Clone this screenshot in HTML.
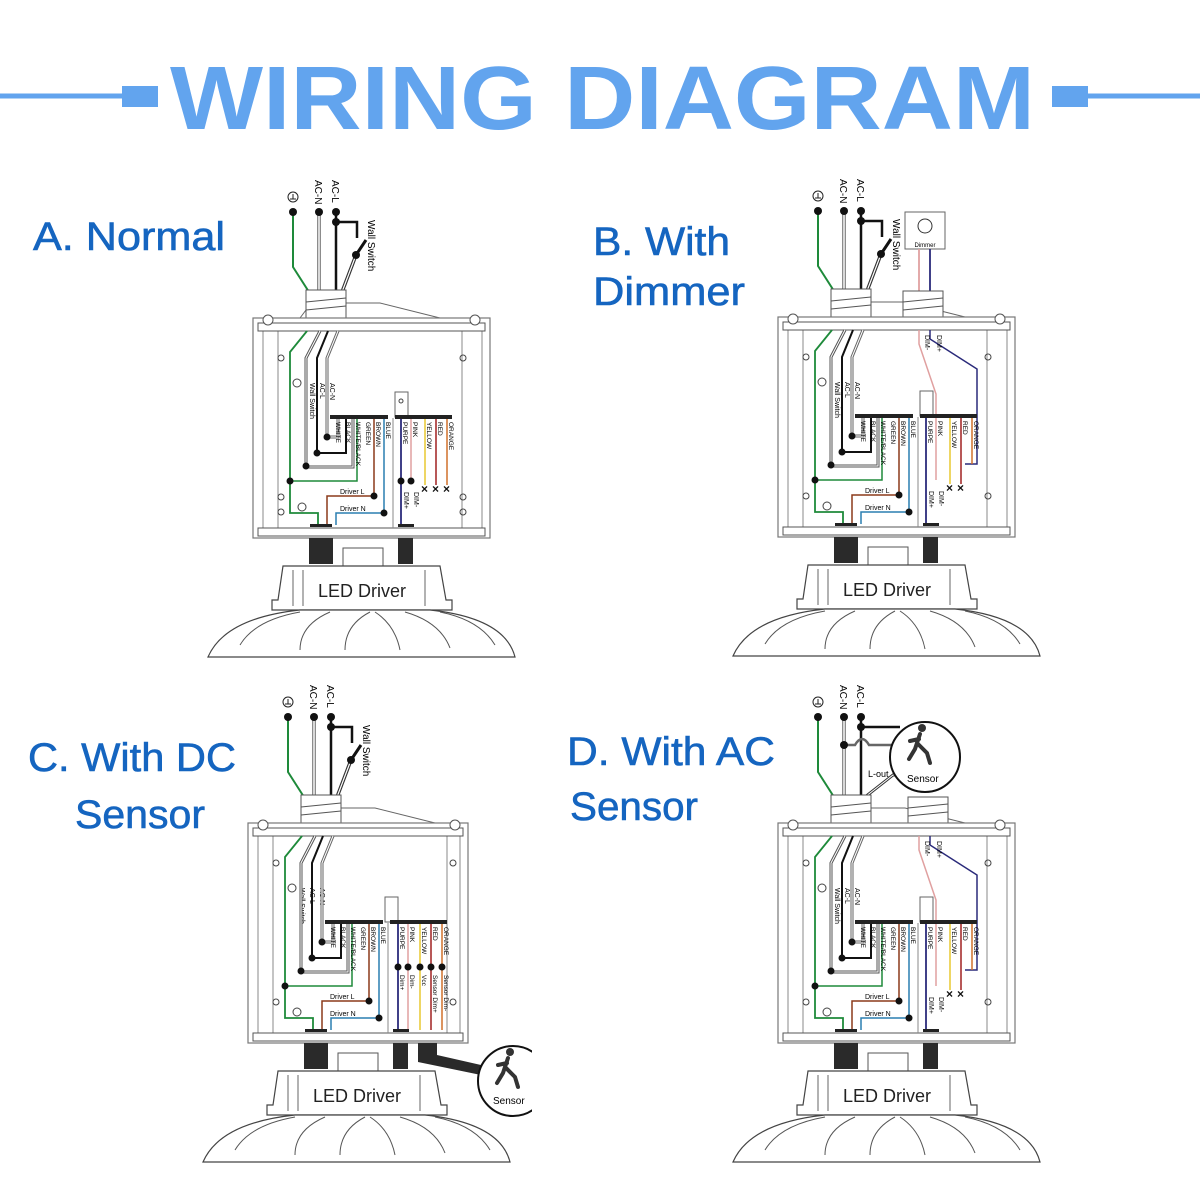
<!DOCTYPE html>
<html><head><meta charset="utf-8"><style>
html,body{margin:0;padding:0;background:#fff}
svg{display:block}
.t{font-family:"Liberation Sans",sans-serif}
</style></head><body>
<svg width="1200" height="1200" viewBox="0 0 1200 1200" xmlns="http://www.w3.org/2000/svg" class="t">
<defs><clipPath id="cc"><rect x="0" y="0" width="532" height="1200"/></clipPath></defs>
<!-- title -->
<line x1="0" y1="96" x2="125" y2="96" stroke="#62a4ee" stroke-width="5"/>
<rect x="122" y="86" width="36" height="21" fill="#62a4ee"/>
<line x1="1085" y1="96" x2="1200" y2="96" stroke="#62a4ee" stroke-width="5"/>
<rect x="1052" y="86" width="36" height="21" fill="#62a4ee"/>
<text x="170" y="129" font-size="90" font-weight="bold" fill="#62a4ee" textLength="865" lengthAdjust="spacingAndGlyphs">WIRING DIAGRAM</text>

<g fill="#1565c0" font-size="40" stroke="#1565c0" stroke-width="0.6">
<text x="33" y="250" textLength="192" lengthAdjust="spacingAndGlyphs">A. Normal</text>
<text x="593" y="255" textLength="137" lengthAdjust="spacingAndGlyphs">B. With</text>
<text x="593" y="305" textLength="152" lengthAdjust="spacingAndGlyphs">Dimmer</text>
<text x="28" y="771" textLength="208" lengthAdjust="spacingAndGlyphs">C. With DC</text>
<text x="75" y="828" textLength="130" lengthAdjust="spacingAndGlyphs">Sensor</text>
<text x="567" y="765" textLength="208" lengthAdjust="spacingAndGlyphs">D. With AC</text>
<text x="570" y="820" textLength="128" lengthAdjust="spacingAndGlyphs">Sensor</text>
</g>

<!-- ===== Fixture A ===== -->
<g>
<circle cx="293" cy="197" r="5" fill="none" stroke="#222"/>
<line x1="293" y1="194" x2="293" y2="199" stroke="#222"/><line x1="290" y1="199" x2="296" y2="199" stroke="#222"/>
<text transform="translate(315,180) rotate(90)" font-size="10">AC-N</text>
<text transform="translate(332,180) rotate(90)" font-size="10">AC-L</text>
<text transform="translate(368,220) rotate(90)" font-size="10">Wall Switch</text>
<path d="M293,212 L293,267 L309,292" fill="none" stroke="#1e8a3a" stroke-width="2"/>
<path d="M319,212 L319,292" fill="none" stroke="#666" stroke-width="3.5"/><path d="M319,212 L319,292" stroke="#fff" stroke-width="1.5"/>
<path d="M336,212 L336,292" stroke="#111" stroke-width="2.5"/>
<path d="M336,222 H357 V238" fill="none" stroke="#111" stroke-width="2.5"/>
<path d="M356,255 L366,240" stroke="#111" stroke-width="3"/>
<path d="M356,255 L342,292" stroke="#333" stroke-width="3.5"/><path d="M356,255 L342,292" stroke="#fff" stroke-width="1.2"/>
<g fill="#111"><circle cx="293" cy="212" r="4"/><circle cx="319" cy="212" r="4"/><circle cx="336" cy="212" r="4"/><circle cx="336" cy="222" r="4"/><circle cx="356" cy="255" r="4"/></g>
<path d="M346,303 L380,303 L440,318" fill="none" stroke="#666"/>
<path d="M300,318 L306,310" stroke="#666"/>
<rect x="306" y="290" width="40" height="28" fill="#fff" stroke="#555"/>
<line x1="306" y1="302" x2="346" y2="298" stroke="#555"/><line x1="306" y1="310" x2="346" y2="306" stroke="#555"/>
<rect x="253" y="318" width="237" height="220" fill="#fff" stroke="#777" stroke-width="1.2"/>
<line x1="263" y1="331" x2="263" y2="528" stroke="#888"/><line x1="482" y1="331" x2="482" y2="528" stroke="#888"/>
<line x1="278" y1="331" x2="278" y2="528" stroke="#888"/><line x1="462" y1="331" x2="462" y2="528" stroke="#888"/>
<rect x="258" y="323" width="227" height="8" fill="#fff" stroke="#555"/>
<rect x="258" y="528" width="227" height="8" fill="#fff" stroke="#555"/>
<circle cx="268" cy="320" r="5" fill="#fff" stroke="#555"/><circle cx="475" cy="320" r="5" fill="#fff" stroke="#555"/>
<g fill="none" stroke="#444"><circle cx="281" cy="358" r="3"/><circle cx="463" cy="358" r="3"/><circle cx="281" cy="497" r="3"/><circle cx="463" cy="497" r="3"/><circle cx="281" cy="512" r="3"/><circle cx="463" cy="512" r="3"/><circle cx="297" cy="383" r="4"/><circle cx="302" cy="507" r="4"/></g>
<text transform="translate(330,383) rotate(90)" font-size="7">AC-N</text>
<text transform="translate(320,383) rotate(90)" font-size="7">AC-L</text>
<text transform="translate(310,383) rotate(90)" font-size="7">Wall Switch</text>
<path d="M307,331 L290,352 V513 H318 V525" fill="none" stroke="#1e8a3a" stroke-width="1.8"/>
<path d="M290,481 H357 V418" fill="none" stroke="#1e8a3a" stroke-width="1.5"/>
<path d="M320,331 L306,358 V467 H353 V418" fill="none" stroke="#555" stroke-width="3"/><path d="M320,331 L306,358 V467 H353 V418" fill="none" stroke="#fff" stroke-width="1"/>
<path d="M328,331 L317,358 V453 H346 V418" fill="none" stroke="#111" stroke-width="2"/>
<path d="M338,331 L327,358 V437 H338 V418" fill="none" stroke="#666" stroke-width="3"/><path d="M338,331 L327,358 V437 H338 V418" fill="none" stroke="#fff" stroke-width="1"/>
<path d="M374,418 V496 H327 V525" fill="none" stroke="#8b3a1a" stroke-width="1.5"/>
<path d="M384,418 V513 H336 V525" fill="none" stroke="#2a7fb0" stroke-width="1.5"/>
<path d="M401,418 V525" stroke="#2a2a7a" stroke-width="1.8"/>
<path d="M411,418 V481" stroke="#e0a0a0" stroke-width="1.5"/>
<path d="M425,418 V485" stroke="#e8c830" stroke-width="1.5"/>
<path d="M436,418 V485" stroke="#a02020" stroke-width="1.5"/>
<path d="M447,418 V485" stroke="#d0702a" stroke-width="1.5"/>
<line x1="393" y1="418" x2="393" y2="528" stroke="#888"/>
<g fill="#111"><circle cx="290" cy="481" r="3.5"/><circle cx="306" cy="466" r="3.5"/><circle cx="317" cy="453" r="3.5"/><circle cx="327" cy="437" r="3.5"/><circle cx="374" cy="496" r="3.5"/><circle cx="384" cy="513" r="3.5"/><circle cx="401" cy="481" r="3.5"/><circle cx="411" cy="481" r="3.5"/></g>
<g font-size="12" font-weight="bold" fill="#111"><text x="421" y="493">×</text><text x="432" y="493">×</text><text x="443" y="493">×</text></g>
<text x="340" y="494" font-size="7">Driver L</text><text x="340" y="511" font-size="7">Driver N</text>
<text transform="translate(414,492) rotate(90)" font-size="7">DIM-</text><text transform="translate(404,492) rotate(90)" font-size="7">DIM+</text>
<rect x="395" y="392" width="13" height="25" fill="#fff" stroke="#666"/><circle cx="401" cy="401" r="2" fill="none" stroke="#444"/>
<rect x="330" y="415" width="58" height="4" fill="#222"/><rect x="395" y="415" width="57" height="4" fill="#222"/>
<g font-size="6.5">
<text transform="translate(336,422) rotate(90)">WHITE</text><text transform="translate(346,422) rotate(90)">BLACK</text><text transform="translate(356,422) rotate(90)">WHITE/BLACK</text><text transform="translate(366,422) rotate(90)">GREEN</text><text transform="translate(376,422) rotate(90)">BROWN</text><text transform="translate(386,422) rotate(90)">BLUE</text>
<text transform="translate(403,422) rotate(90)">PURPE</text><text transform="translate(413,422) rotate(90)">PINK</text><text transform="translate(427,422) rotate(90)">YELLOW</text><text transform="translate(438,422) rotate(90)">RED</text><text transform="translate(449,422) rotate(90)">ORANGE</text>
</g>
<rect x="310" y="524" width="22" height="3" fill="#222"/><rect x="398" y="524" width="16" height="3" fill="#222"/>
<rect x="309" y="538" width="24" height="26" fill="#2a2a2a"/><rect x="398" y="538" width="15" height="26" fill="#2a2a2a"/>
<rect x="343" y="548" width="40" height="18" fill="#fff" stroke="#555"/>
<path d="M283,566 L440,566 L446,600 L452,600 L452,610 L272,610 L272,600 L278,600 Z" fill="#fff" stroke="#444" stroke-width="1.2"/>
<line x1="293" y1="570" x2="293" y2="606" stroke="#666"/><line x1="303" y1="570" x2="303" y2="606" stroke="#666"/><line x1="425" y1="570" x2="425" y2="606" stroke="#666"/>
<text x="362" y="597" font-size="18" text-anchor="middle" fill="#222">LED Driver</text>
<path d="M208,657 Q225,618 300,610 L430,610 Q505,618 515,657 Z" fill="#fff" stroke="#444" stroke-width="1.2"/>
<g fill="none" stroke="#555"><path d="M240,645 Q255,620 300,612"/><path d="M300,650 Q300,625 330,612"/><path d="M345,650 Q345,625 370,612"/><path d="M400,650 Q395,625 375,612"/><path d="M450,648 Q440,622 405,612"/><path d="M495,645 Q480,620 440,612"/></g>
</g>

<!-- ===== Fixture B ===== -->
<g transform="translate(525,-1)">
<circle cx="293" cy="197" r="5" fill="none" stroke="#222"/>
<line x1="293" y1="194" x2="293" y2="199" stroke="#222"/><line x1="290" y1="199" x2="296" y2="199" stroke="#222"/>
<text transform="translate(315,180) rotate(90)" font-size="10">AC-N</text>
<text transform="translate(332,180) rotate(90)" font-size="10">AC-L</text>
<text transform="translate(368,220) rotate(90)" font-size="10">Wall Switch</text>
<path d="M293,212 L293,267 L309,292" fill="none" stroke="#1e8a3a" stroke-width="2"/>
<path d="M319,212 L319,292" stroke="#666" stroke-width="3.5"/><path d="M319,212 L319,292" stroke="#fff" stroke-width="1.5"/>
<path d="M336,212 L336,292" stroke="#111" stroke-width="2.5"/>
<path d="M336,222 H357 V238" fill="none" stroke="#111" stroke-width="2.5"/>
<path d="M356,255 L366,240" stroke="#111" stroke-width="3"/>
<path d="M356,255 L342,292" stroke="#333" stroke-width="3.5"/><path d="M356,255 L342,292" stroke="#fff" stroke-width="1.2"/>
<g fill="#111"><circle cx="293" cy="212" r="4"/><circle cx="319" cy="212" r="4"/><circle cx="336" cy="212" r="4"/><circle cx="336" cy="222" r="4"/><circle cx="356" cy="255" r="4"/></g>
<rect x="380" y="213" width="40" height="37" fill="#fff" stroke="#666"/><circle cx="400" cy="227" r="7" fill="#fff" stroke="#333"/>
<text x="400" y="248" font-size="6" text-anchor="middle">Dimmer</text>
<line x1="394" y1="250" x2="394" y2="292" stroke="#e0a0a0" stroke-width="1.8"/><line x1="405" y1="250" x2="405" y2="292" stroke="#2a2a7a" stroke-width="1.8"/>
<path d="M346,303 L380,303 L440,318" fill="none" stroke="#666"/>
<rect x="306" y="290" width="40" height="28" fill="#fff" stroke="#555"/>
<line x1="306" y1="302" x2="346" y2="298" stroke="#555"/><line x1="306" y1="310" x2="346" y2="306" stroke="#555"/>
<rect x="378" y="292" width="40" height="26" fill="#fff" stroke="#555"/>
<line x1="378" y1="303" x2="418" y2="299" stroke="#555"/><line x1="378" y1="311" x2="418" y2="307" stroke="#555"/>
<rect x="253" y="318" width="237" height="220" fill="#fff" stroke="#777" stroke-width="1.2"/>
<line x1="263" y1="331" x2="263" y2="528" stroke="#888"/><line x1="482" y1="331" x2="482" y2="528" stroke="#888"/>
<line x1="278" y1="331" x2="278" y2="528" stroke="#888"/><line x1="462" y1="331" x2="462" y2="528" stroke="#888"/>
<rect x="258" y="323" width="227" height="8" fill="#fff" stroke="#555"/><rect x="258" y="528" width="227" height="8" fill="#fff" stroke="#555"/>
<circle cx="268" cy="320" r="5" fill="#fff" stroke="#555"/><circle cx="475" cy="320" r="5" fill="#fff" stroke="#555"/>
<g fill="none" stroke="#444"><circle cx="281" cy="358" r="3"/><circle cx="463" cy="358" r="3"/><circle cx="281" cy="497" r="3"/><circle cx="463" cy="497" r="3"/><circle cx="297" cy="383" r="4"/><circle cx="302" cy="507" r="4"/></g>
<text transform="translate(330,383) rotate(90)" font-size="7">AC-N</text><text transform="translate(320,383) rotate(90)" font-size="7">AC-L</text><text transform="translate(310,383) rotate(90)" font-size="7">Wall Switch</text>
<path d="M394,331 L394,345 L411,395 V418" fill="none" stroke="#e0a0a0" stroke-width="1.5"/>
<path d="M405,331 L405,340 L452,370 V465 H440" fill="none" stroke="#2a2a7a" stroke-width="1.5"/>
<text transform="translate(400,336) rotate(90)" font-size="7">DIM-</text><text transform="translate(412,336) rotate(90)" font-size="7">DIM+</text>
<path d="M307,331 L290,352 V513 H318 V525" fill="none" stroke="#1e8a3a" stroke-width="1.8"/>
<path d="M290,481 H357 V418" fill="none" stroke="#1e8a3a" stroke-width="1.5"/>
<path d="M320,331 L306,358 V467 H353 V418" fill="none" stroke="#555" stroke-width="3"/><path d="M320,331 L306,358 V467 H353 V418" fill="none" stroke="#fff" stroke-width="1"/>
<path d="M328,331 L317,358 V453 H346 V418" fill="none" stroke="#111" stroke-width="2"/>
<path d="M338,331 L327,358 V437 H338 V418" fill="none" stroke="#666" stroke-width="3"/><path d="M338,331 L327,358 V437 H338 V418" fill="none" stroke="#fff" stroke-width="1"/>
<path d="M374,418 V496 H327 V525" fill="none" stroke="#8b3a1a" stroke-width="1.5"/>
<path d="M384,418 V513 H336 V525" fill="none" stroke="#2a7fb0" stroke-width="1.5"/>
<path d="M401,418 V525" stroke="#2a2a7a" stroke-width="1.8"/><path d="M411,418 V481" stroke="#e0a0a0" stroke-width="1.5"/>
<path d="M425,418 V485" stroke="#e8c830" stroke-width="1.5"/><path d="M436,418 V485" stroke="#a02020" stroke-width="1.5"/><path d="M447,418 V465" stroke="#d0702a" stroke-width="1.5"/>
<line x1="393" y1="418" x2="393" y2="528" stroke="#888"/>
<g fill="#111"><circle cx="290" cy="481" r="3.5"/><circle cx="306" cy="466" r="3.5"/><circle cx="317" cy="453" r="3.5"/><circle cx="327" cy="437" r="3.5"/><circle cx="374" cy="496" r="3.5"/><circle cx="384" cy="513" r="3.5"/></g>
<g font-size="12" font-weight="bold" fill="#111"><text x="421" y="493">×</text><text x="432" y="493">×</text></g>
<text x="340" y="494" font-size="7">Driver L</text><text x="340" y="511" font-size="7">Driver N</text>
<text transform="translate(414,492) rotate(90)" font-size="7">DIM-</text><text transform="translate(404,492) rotate(90)" font-size="7">DIM+</text>
<rect x="395" y="392" width="13" height="25" fill="#fff" stroke="#666"/>
<rect x="330" y="415" width="58" height="4" fill="#222"/><rect x="395" y="415" width="57" height="4" fill="#222"/>
<g font-size="6.5"><text transform="translate(336,422) rotate(90)">WHITE</text><text transform="translate(346,422) rotate(90)">BLACK</text><text transform="translate(356,422) rotate(90)">WHITE/BLACK</text><text transform="translate(366,422) rotate(90)">GREEN</text><text transform="translate(376,422) rotate(90)">BROWN</text><text transform="translate(386,422) rotate(90)">BLUE</text><text transform="translate(403,422) rotate(90)">PURPE</text><text transform="translate(413,422) rotate(90)">PINK</text><text transform="translate(427,422) rotate(90)">YELLOW</text><text transform="translate(438,422) rotate(90)">RED</text><text transform="translate(449,422) rotate(90)">ORANGE</text></g>
<rect x="310" y="524" width="22" height="3" fill="#222"/><rect x="398" y="524" width="16" height="3" fill="#222"/>
<rect x="309" y="538" width="24" height="26" fill="#2a2a2a"/><rect x="398" y="538" width="15" height="26" fill="#2a2a2a"/>
<rect x="343" y="548" width="40" height="18" fill="#fff" stroke="#555"/>
<path d="M283,566 L440,566 L446,600 L452,600 L452,610 L272,610 L272,600 L278,600 Z" fill="#fff" stroke="#444" stroke-width="1.2"/>
<line x1="293" y1="570" x2="293" y2="606" stroke="#666"/><line x1="303" y1="570" x2="303" y2="606" stroke="#666"/><line x1="425" y1="570" x2="425" y2="606" stroke="#666"/>
<text x="362" y="597" font-size="18" text-anchor="middle" fill="#222">LED Driver</text>
<path d="M208,657 Q225,618 300,610 L430,610 Q505,618 515,657 Z" fill="#fff" stroke="#444" stroke-width="1.2"/>
<g fill="none" stroke="#555"><path d="M240,645 Q255,620 300,612"/><path d="M300,650 Q300,625 330,612"/><path d="M345,650 Q345,625 370,612"/><path d="M400,650 Q395,625 375,612"/><path d="M450,648 Q440,622 405,612"/><path d="M495,645 Q480,620 440,612"/></g>
</g>

<!-- ===== Fixture C ===== -->
<g transform="translate(-5,505)">
<circle cx="293" cy="197" r="5" fill="none" stroke="#222"/>
<line x1="293" y1="194" x2="293" y2="199" stroke="#222"/><line x1="290" y1="199" x2="296" y2="199" stroke="#222"/>
<text transform="translate(315,180) rotate(90)" font-size="10">AC-N</text>
<text transform="translate(332,180) rotate(90)" font-size="10">AC-L</text>
<text transform="translate(368,220) rotate(90)" font-size="10">Wall Switch</text>
<path d="M293,212 L293,267 L309,292" fill="none" stroke="#1e8a3a" stroke-width="2"/>
<path d="M319,212 L319,292" stroke="#666" stroke-width="3.5"/><path d="M319,212 L319,292" stroke="#fff" stroke-width="1.5"/>
<path d="M336,212 L336,292" stroke="#111" stroke-width="2.5"/>
<path d="M336,222 H357 V238" fill="none" stroke="#111" stroke-width="2.5"/>
<path d="M356,255 L366,240" stroke="#111" stroke-width="3"/>
<path d="M356,255 L342,292" stroke="#333" stroke-width="3.5"/><path d="M356,255 L342,292" stroke="#fff" stroke-width="1.2"/>
<g fill="#111"><circle cx="293" cy="212" r="4"/><circle cx="319" cy="212" r="4"/><circle cx="336" cy="212" r="4"/><circle cx="336" cy="222" r="4"/><circle cx="356" cy="255" r="4"/></g>
<path d="M346,303 L380,303 L440,318" fill="none" stroke="#666"/>
<rect x="306" y="290" width="40" height="28" fill="#fff" stroke="#555"/>
<line x1="306" y1="302" x2="346" y2="298" stroke="#555"/><line x1="306" y1="310" x2="346" y2="306" stroke="#555"/>
<rect x="253" y="318" width="220" height="220" fill="#fff" stroke="#777" stroke-width="1.2"/>
<line x1="263" y1="331" x2="263" y2="528" stroke="#888"/><line x1="465" y1="331" x2="465" y2="528" stroke="#888"/>
<line x1="278" y1="331" x2="278" y2="528" stroke="#888"/><line x1="452" y1="331" x2="452" y2="528" stroke="#888"/>
<rect x="258" y="323" width="210" height="8" fill="#fff" stroke="#555"/><rect x="258" y="528" width="210" height="8" fill="#fff" stroke="#555"/>
<circle cx="268" cy="320" r="5" fill="#fff" stroke="#555"/><circle cx="460" cy="320" r="5" fill="#fff" stroke="#555"/>
<g fill="none" stroke="#444"><circle cx="281" cy="358" r="3"/><circle cx="458" cy="358" r="3"/><circle cx="281" cy="497" r="3"/><circle cx="458" cy="497" r="3"/><circle cx="297" cy="383" r="4"/><circle cx="302" cy="507" r="4"/></g>
<text transform="translate(325,383) rotate(90)" font-size="7">AC-N</text><text transform="translate(315,383) rotate(90)" font-size="7">AC-L</text><text transform="translate(305,383) rotate(90)" font-size="7">Wall Switch</text>
<path d="M307,331 L290,352 V513 H318 V525" fill="none" stroke="#1e8a3a" stroke-width="1.8"/>
<path d="M290,481 H357 V418" fill="none" stroke="#1e8a3a" stroke-width="1.5"/>
<path d="M320,331 L306,358 V467 H353 V418" fill="none" stroke="#555" stroke-width="3"/><path d="M320,331 L306,358 V467 H353 V418" fill="none" stroke="#fff" stroke-width="1"/>
<path d="M328,331 L317,358 V453 H346 V418" fill="none" stroke="#111" stroke-width="2"/>
<path d="M338,331 L327,358 V437 H338 V418" fill="none" stroke="#666" stroke-width="3"/><path d="M338,331 L327,358 V437 H338 V418" fill="none" stroke="#fff" stroke-width="1"/>
<path d="M374,418 V496 H327 V525" fill="none" stroke="#8b3a1a" stroke-width="1.5"/>
<path d="M384,418 V513 H336 V525" fill="none" stroke="#2a7fb0" stroke-width="1.5"/>
<path d="M403,418 V525" stroke="#2a2a7a" stroke-width="1.8"/><path d="M413,418 V525" stroke="#e0a0a0" stroke-width="1.5"/>
<path d="M425,418 V525" stroke="#e8c830" stroke-width="1.5"/><path d="M436,418 V525" stroke="#a02020" stroke-width="1.5"/><path d="M447,418 V525" stroke="#d0702a" stroke-width="1.5"/>
<line x1="393" y1="418" x2="393" y2="528" stroke="#888"/>
<g fill="#111"><circle cx="290" cy="481" r="3.5"/><circle cx="306" cy="466" r="3.5"/><circle cx="317" cy="453" r="3.5"/><circle cx="327" cy="437" r="3.5"/><circle cx="374" cy="496" r="3.5"/><circle cx="384" cy="513" r="3.5"/><circle cx="403" cy="462" r="3.5"/><circle cx="413" cy="462" r="3.5"/><circle cx="425" cy="462" r="3.5"/><circle cx="436" cy="462" r="3.5"/><circle cx="447" cy="462" r="3.5"/></g>
<text x="335" y="494" font-size="7">Driver L</text><text x="335" y="511" font-size="7">Driver N</text>
<g font-size="6.5"><text transform="translate(405,470) rotate(90)">Dim+</text><text transform="translate(415,470) rotate(90)">Dim-</text><text transform="translate(427,470) rotate(90)">Vcc</text><text transform="translate(438,470) rotate(90)">Sensor Dim+</text><text transform="translate(449,470) rotate(90)">Sensor Dim-</text></g>
<rect x="390" y="392" width="13" height="25" fill="#fff" stroke="#666"/>
<rect x="330" y="415" width="58" height="4" fill="#222"/><rect x="395" y="415" width="57" height="4" fill="#222"/>
<g font-size="6.5"><text transform="translate(336,422) rotate(90)">WHITE</text><text transform="translate(346,422) rotate(90)">BLACK</text><text transform="translate(356,422) rotate(90)">WHITE/BLACK</text><text transform="translate(366,422) rotate(90)">GREEN</text><text transform="translate(376,422) rotate(90)">BROWN</text><text transform="translate(386,422) rotate(90)">BLUE</text><text transform="translate(405,422) rotate(90)">PURPE</text><text transform="translate(415,422) rotate(90)">PINK</text><text transform="translate(427,422) rotate(90)">YELLOW</text><text transform="translate(438,422) rotate(90)">RED</text><text transform="translate(449,422) rotate(90)">ORANGE</text></g>
<rect x="310" y="524" width="22" height="3" fill="#222"/><rect x="398" y="524" width="16" height="3" fill="#222"/>
<rect x="309" y="538" width="24" height="26" fill="#2a2a2a"/><rect x="398" y="538" width="15" height="26" fill="#2a2a2a"/>
<path d="M423,538 L442,538 L442,550 L486,560 L486,570 L423,557 Z" fill="#2a2a2a"/>
<rect x="343" y="548" width="40" height="18" fill="#fff" stroke="#555"/>
<path d="M283,566 L440,566 L446,600 L452,600 L452,610 L272,610 L272,600 L278,600 Z" fill="#fff" stroke="#444" stroke-width="1.2"/>
<line x1="293" y1="570" x2="293" y2="606" stroke="#666"/><line x1="303" y1="570" x2="303" y2="606" stroke="#666"/><line x1="425" y1="570" x2="425" y2="606" stroke="#666"/>
<text x="362" y="597" font-size="18" text-anchor="middle" fill="#222">LED Driver</text>
<path d="M208,657 Q225,618 300,610 L430,610 Q505,618 515,657 Z" fill="#fff" stroke="#444" stroke-width="1.2"/>
<g fill="none" stroke="#555"><path d="M240,645 Q255,620 300,612"/><path d="M300,650 Q300,625 330,612"/><path d="M345,650 Q345,625 370,612"/><path d="M400,650 Q395,625 375,612"/><path d="M450,648 Q440,622 405,612"/><path d="M495,645 Q480,620 440,612"/></g>
</g>
<g clip-path="url(#cc)">
<circle cx="513" cy="1081" r="35" fill="#fff" stroke="#111" stroke-width="2"/>
<circle cx="510" cy="1052" r="4" fill="#333"/><path d="M508,1058 L503,1073 L497,1083 M505,1067 L515,1077 L518,1087 M507,1063 L498,1065" stroke="#333" stroke-width="4" fill="none" stroke-linecap="round"/>
<text x="493" y="1104" font-size="10">Sensor</text>
</g>

<!-- ===== Fixture D ===== -->
<g transform="translate(525,505)">
<circle cx="293" cy="197" r="5" fill="none" stroke="#222"/>
<line x1="293" y1="194" x2="293" y2="199" stroke="#222"/><line x1="290" y1="199" x2="296" y2="199" stroke="#222"/>
<text transform="translate(315,180) rotate(90)" font-size="10">AC-N</text>
<text transform="translate(332,180) rotate(90)" font-size="10">AC-L</text>
<path d="M293,212 L293,267 L309,292" fill="none" stroke="#1e8a3a" stroke-width="2"/>
<path d="M319,212 L319,292" stroke="#666" stroke-width="3.5"/><path d="M319,212 L319,292" stroke="#fff" stroke-width="1.5"/>
<path d="M336,212 L336,292" stroke="#111" stroke-width="2.5"/>
<path d="M336,222 H375" fill="none" stroke="#111" stroke-width="2.5"/>
<path d="M319,240 H330 Q337,228 344,240 H372" fill="none" stroke="#666" stroke-width="2.5"/>
<path d="M340,292 L368,270 H380" fill="none" stroke="#333" stroke-width="3"/><path d="M340,292 L368,270 H380" fill="none" stroke="#fff" stroke-width="1"/>
<text x="343" y="272" font-size="9">L-out</text>
<g fill="#111"><circle cx="293" cy="212" r="4"/><circle cx="319" cy="212" r="4"/><circle cx="336" cy="212" r="4"/><circle cx="336" cy="222" r="4"/><circle cx="319" cy="240" r="4"/></g>
<path d="M346,303 L380,303 L440,318" fill="none" stroke="#666"/>
<rect x="306" y="290" width="40" height="28" fill="#fff" stroke="#555"/>
<line x1="306" y1="302" x2="346" y2="298" stroke="#555"/><line x1="306" y1="310" x2="346" y2="306" stroke="#555"/>
<rect x="383" y="292" width="40" height="26" fill="#fff" stroke="#555"/>
<line x1="383" y1="303" x2="423" y2="299" stroke="#555"/><line x1="383" y1="311" x2="423" y2="307" stroke="#555"/>
<circle cx="400" cy="252" r="35" fill="#fff" stroke="#111" stroke-width="2"/>
<circle cx="397" cy="223" r="4" fill="#333"/><path d="M395,229 L390,244 L384,254 M392,238 L402,248 L405,258 M394,234 L385,236" stroke="#333" stroke-width="4" fill="none" stroke-linecap="round"/>
<text x="382" y="277" font-size="10">Sensor</text>
<rect x="253" y="318" width="237" height="220" fill="#fff" stroke="#777" stroke-width="1.2"/>
<line x1="263" y1="331" x2="263" y2="528" stroke="#888"/><line x1="482" y1="331" x2="482" y2="528" stroke="#888"/>
<line x1="278" y1="331" x2="278" y2="528" stroke="#888"/><line x1="462" y1="331" x2="462" y2="528" stroke="#888"/>
<rect x="258" y="323" width="227" height="8" fill="#fff" stroke="#555"/><rect x="258" y="528" width="227" height="8" fill="#fff" stroke="#555"/>
<circle cx="268" cy="320" r="5" fill="#fff" stroke="#555"/><circle cx="475" cy="320" r="5" fill="#fff" stroke="#555"/>
<g fill="none" stroke="#444"><circle cx="281" cy="358" r="3"/><circle cx="463" cy="358" r="3"/><circle cx="281" cy="497" r="3"/><circle cx="463" cy="497" r="3"/><circle cx="297" cy="383" r="4"/><circle cx="302" cy="507" r="4"/></g>
<text transform="translate(330,383) rotate(90)" font-size="7">AC-N</text><text transform="translate(320,383) rotate(90)" font-size="7">AC-L</text><text transform="translate(310,383) rotate(90)" font-size="7">Wall Switch</text>
<path d="M394,331 L394,345 L411,395 V418" fill="none" stroke="#e0a0a0" stroke-width="1.5"/>
<path d="M405,331 L405,340 L452,370 V465 H440" fill="none" stroke="#2a2a7a" stroke-width="1.5"/>
<text transform="translate(400,336) rotate(90)" font-size="7">DIM-</text><text transform="translate(412,336) rotate(90)" font-size="7">DIM+</text>
<path d="M307,331 L290,352 V513 H318 V525" fill="none" stroke="#1e8a3a" stroke-width="1.8"/>
<path d="M290,481 H357 V418" fill="none" stroke="#1e8a3a" stroke-width="1.5"/>
<path d="M320,331 L306,358 V467 H353 V418" fill="none" stroke="#555" stroke-width="3"/><path d="M320,331 L306,358 V467 H353 V418" fill="none" stroke="#fff" stroke-width="1"/>
<path d="M328,331 L317,358 V453 H346 V418" fill="none" stroke="#111" stroke-width="2"/>
<path d="M338,331 L327,358 V437 H338 V418" fill="none" stroke="#666" stroke-width="3"/><path d="M338,331 L327,358 V437 H338 V418" fill="none" stroke="#fff" stroke-width="1"/>
<path d="M374,418 V496 H327 V525" fill="none" stroke="#8b3a1a" stroke-width="1.5"/>
<path d="M384,418 V513 H336 V525" fill="none" stroke="#2a7fb0" stroke-width="1.5"/>
<path d="M401,418 V525" stroke="#2a2a7a" stroke-width="1.8"/><path d="M411,418 V481" stroke="#e0a0a0" stroke-width="1.5"/>
<path d="M425,418 V485" stroke="#e8c830" stroke-width="1.5"/><path d="M436,418 V485" stroke="#a02020" stroke-width="1.5"/><path d="M447,418 V465" stroke="#d0702a" stroke-width="1.5"/>
<line x1="393" y1="418" x2="393" y2="528" stroke="#888"/>
<g fill="#111"><circle cx="290" cy="481" r="3.5"/><circle cx="306" cy="466" r="3.5"/><circle cx="317" cy="453" r="3.5"/><circle cx="327" cy="437" r="3.5"/><circle cx="374" cy="496" r="3.5"/><circle cx="384" cy="513" r="3.5"/></g>
<g font-size="12" font-weight="bold" fill="#111"><text x="421" y="493">×</text><text x="432" y="493">×</text></g>
<text x="340" y="494" font-size="7">Driver L</text><text x="340" y="511" font-size="7">Driver N</text>
<text transform="translate(414,492) rotate(90)" font-size="7">DIM-</text><text transform="translate(404,492) rotate(90)" font-size="7">DIM+</text>
<rect x="395" y="392" width="13" height="25" fill="#fff" stroke="#666"/>
<rect x="330" y="415" width="58" height="4" fill="#222"/><rect x="395" y="415" width="57" height="4" fill="#222"/>
<g font-size="6.5"><text transform="translate(336,422) rotate(90)">WHITE</text><text transform="translate(346,422) rotate(90)">BLACK</text><text transform="translate(356,422) rotate(90)">WHITE/BLACK</text><text transform="translate(366,422) rotate(90)">GREEN</text><text transform="translate(376,422) rotate(90)">BROWN</text><text transform="translate(386,422) rotate(90)">BLUE</text><text transform="translate(403,422) rotate(90)">PURPE</text><text transform="translate(413,422) rotate(90)">PINK</text><text transform="translate(427,422) rotate(90)">YELLOW</text><text transform="translate(438,422) rotate(90)">RED</text><text transform="translate(449,422) rotate(90)">ORANGE</text></g>
<rect x="310" y="524" width="22" height="3" fill="#222"/><rect x="398" y="524" width="16" height="3" fill="#222"/>
<rect x="309" y="538" width="24" height="26" fill="#2a2a2a"/><rect x="398" y="538" width="15" height="26" fill="#2a2a2a"/>
<rect x="343" y="548" width="40" height="18" fill="#fff" stroke="#555"/>
<path d="M283,566 L440,566 L446,600 L452,600 L452,610 L272,610 L272,600 L278,600 Z" fill="#fff" stroke="#444" stroke-width="1.2"/>
<line x1="293" y1="570" x2="293" y2="606" stroke="#666"/><line x1="303" y1="570" x2="303" y2="606" stroke="#666"/><line x1="425" y1="570" x2="425" y2="606" stroke="#666"/>
<text x="362" y="597" font-size="18" text-anchor="middle" fill="#222">LED Driver</text>
<path d="M208,657 Q225,618 300,610 L430,610 Q505,618 515,657 Z" fill="#fff" stroke="#444" stroke-width="1.2"/>
<g fill="none" stroke="#555"><path d="M240,645 Q255,620 300,612"/><path d="M300,650 Q300,625 330,612"/><path d="M345,650 Q345,625 370,612"/><path d="M400,650 Q395,625 375,612"/><path d="M450,648 Q440,622 405,612"/><path d="M495,645 Q480,620 440,612"/></g>
</g>
</svg>
</body></html>
